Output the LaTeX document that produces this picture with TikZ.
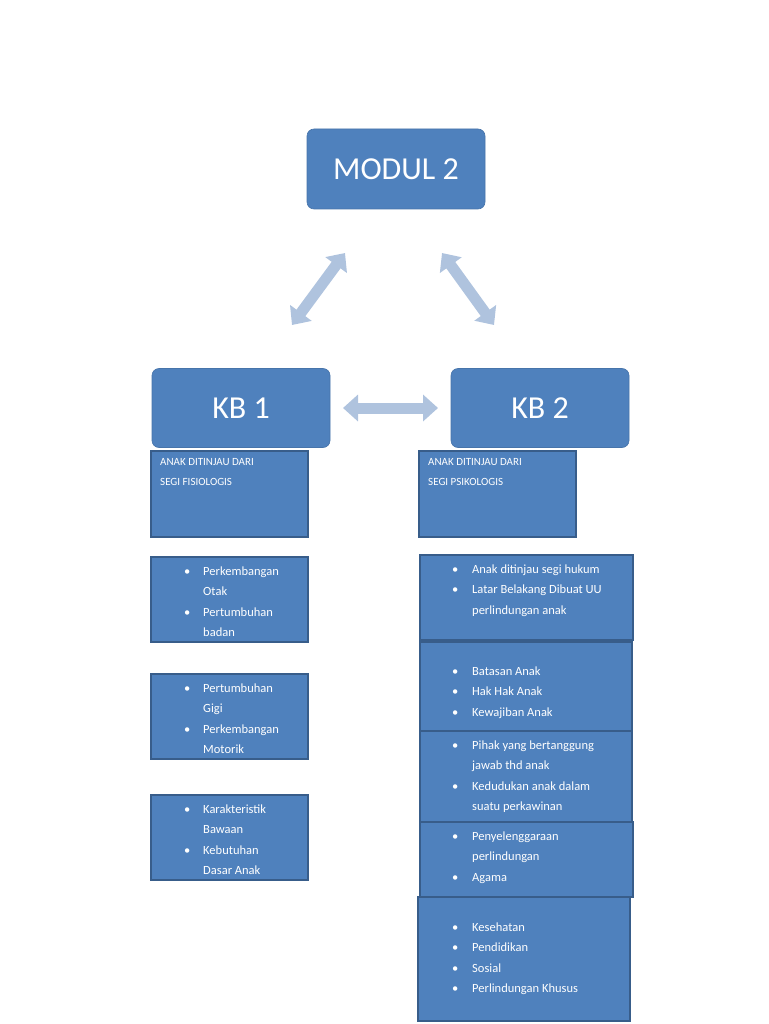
\documentclass[tikz,border=0pt]{standalone}
\usepackage{fontspec}
\setmainfont{Carlito}
\usetikzlibrary{arrows.meta}
\definecolor{boxblue}{HTML}{4F81BD}
\definecolor{boxedge}{HTML}{385D8A}
\definecolor{arr}{HTML}{AFC3DE}
\begin{document}
\begin{tikzpicture}[x=1pt,y=-1pt,
  big/.style={draw=boxblue!90!black,fill=boxblue,rounded corners=7pt,text=white,font=\fontsize{32}{36}\selectfont,line width=0.6pt},
  sq/.style={draw=boxedge,fill=boxblue,line width=1.2pt},
  txt/.style={anchor=north west,inner sep=0pt,text=white,font=\fontsize{12.5}{20.4}\selectfont},
  hdr/.style={anchor=north west,inner sep=0pt,text=white,align=left,font=\fontsize{11}{20}\selectfont},
  dbl/.style={arr,line width=11pt,{Triangle[width=26pt,length=15pt]}-{Triangle[width=26pt,length=15pt]},shorten <=0pt,shorten >=0pt}]
\useasboundingbox (0,0) rectangle (768,1024);
\node[big,minimum width=178pt,minimum height=80pt] (m) at (396,169) {MODUL 2};
\node[big,minimum width=178pt,minimum height=79pt] (k1) at (241,408) {KB 1};
\node[big,minimum width=178pt,minimum height=79pt] (k2) at (540,408) {KB 2};
\coordinate (a1) at (345,253); \coordinate (a2) at (292,325);
\coordinate (b1) at (442,253); \coordinate (b2) at (494,325);
\coordinate (c1) at (343,408); \coordinate (c2) at (438,408);
\draw[dbl] (a1) -- (a2);
\draw[dbl] (b1) -- (b2);
\draw[dbl] (c1) -- (c2);
% left boxes
\draw[sq] (151,451) rectangle (308,537);
\draw[sq] (151,557) rectangle (308,642);
\draw[sq] (151,674) rectangle (308,759);
\draw[sq] (151,795) rectangle (308,880);
% right boxes
\draw[sq] (419,451) rectangle (576,537);
\draw[sq] (420,555) rectangle (633,640);
\draw[sq] (420,642) rectangle (632,731);
\draw[sq] (420,731) rectangle (632,822);
\draw[sq] (420,822) rectangle (633,897);
\draw[sq] (418,897) rectangle (630,1021);
\newcommand{\lb}{\begin{tabular}{@{}p{19pt}@{}l@{}}}
\newcommand{\rb}{\begin{tabular}{@{}p{20pt}@{}l@{}}}
\node[hdr] (h1) at (160,458) {ANAK DITINJAU DARI\\SEGI FISIOLOGIS};
\node[hdr] (h2) at (428,458) {ANAK DITINJAU DARI\\SEGI PSIKOLOGIS};
\node[txt] (l1) at (184,561) {\lb \textbullet & Perkembangan\\ & Otak\\ \textbullet & Pertumbuhan\\ & badan\end{tabular}};
\node[txt] (l2) at (184,678) {\lb \textbullet & Pertumbuhan\\ & Gigi\\ \textbullet & Perkembangan\\ & Motorik\end{tabular}};
\node[txt] (l3) at (184,799) {\lb \textbullet & Karakteristik\\ & Bawaan\\ \textbullet & Kebutuhan\\ & Dasar Anak\end{tabular}};
\node[txt] (r1) at (452,559) {\rb \textbullet & Anak ditinjau segi hukum\\ \textbullet & Latar Belakang Dibuat UU\\ & perlindungan anak\end{tabular}};
\node[txt] (r2) at (452,661) {\rb \textbullet & Batasan Anak\\ \textbullet & Hak Hak Anak\\ \textbullet & Kewajiban Anak\end{tabular}};
\node[txt] (r3) at (452,735) {\rb \textbullet & Pihak yang bertanggung\\ & jawab thd anak\\ \textbullet & Kedudukan anak dalam\\ & suatu perkawinan\end{tabular}};
\node[txt] (r4) at (452,826) {\rb \textbullet & Penyelenggaraan\\ & perlindungan\\ \textbullet & Agama\end{tabular}};
\node[txt] (r5) at (452,917) {\rb \textbullet & Kesehatan\\ \textbullet & Pendidikan\\ \textbullet & Sosial\\ \textbullet & Perlindungan Khusus\end{tabular}};
\end{tikzpicture}
\end{document}
